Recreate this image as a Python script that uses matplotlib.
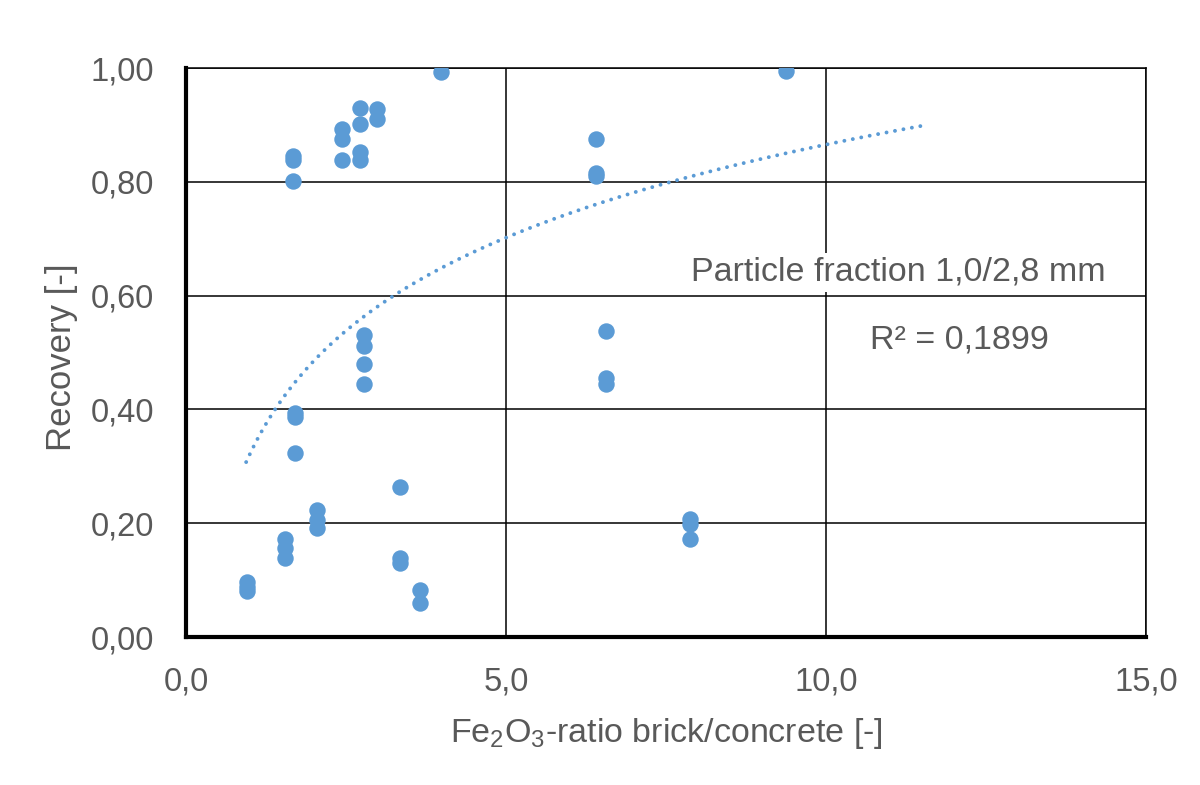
import numpy as np
import matplotlib
matplotlib.use("Agg")
import matplotlib.pyplot as plt

plt.rcParams['font.family'] = ['Liberation Sans', 'DejaVu Sans']
plt.rcParams['mathtext.default'] = 'regular'
plt.rcParams['mathtext.fontset'] = 'custom'
plt.rcParams['mathtext.rm'] = 'Liberation Sans'
plt.rcParams['mathtext.it'] = 'Liberation Sans:italic'
plt.rcParams['mathtext.bf'] = 'Liberation Sans:bold'

# Data
ratio = [0.95, 0.95, 0.95,
         1.55, 1.55, 1.55,
         1.67, 1.67, 1.67,
         1.70, 1.70, 1.70,
         2.04, 2.04, 2.04,
         2.44, 2.44, 2.44,
         2.72, 2.72, 2.72, 2.72,
         2.78, 2.78, 2.78, 2.78,
         2.99, 2.99,
         3.34, 3.34, 3.34,
         3.65, 3.65,
         3.98,
         6.41, 6.41, 6.41,
         6.56, 6.56, 6.56,
         7.87, 7.87, 7.87,
         9.38]
recovery = [0.097, 0.088, 0.080,
            0.172, 0.156, 0.139,
            0.845, 0.838, 0.802,
            0.393, 0.387, 0.324,
            0.223, 0.205, 0.192,
            0.892, 0.875, 0.839,
            0.930, 0.902, 0.853, 0.838,
            0.530, 0.512, 0.480, 0.445,
            0.928, 0.911,
            0.264, 0.138, 0.130,
            0.083, 0.060,
            0.993,
            0.875, 0.816, 0.811,
            0.537, 0.455, 0.444,
            0.208, 0.199, 0.172,
            0.994]

# Logarithmic trendline (y = a*ln(x) + b)
trend_a = 0.236
trend_b = 0.322
trend_range = [0.94, 11.5]

x_ticks = [0, 5, 10, 15]
x_ticklabels = ['0,0', '5,0', '10,0', '15,0']
y_ticks = [0.0, 0.2, 0.4, 0.6, 0.8, 1.0]
y_ticklabels = ['0,00', '0,20', '0,40', '0,60', '0,80', '1,00']

annotation_text = 'Particle fraction 1,0/2,8 mm'
r2_text = 'R² = 0,1899'

blue = '#5B9BD5'
gray = '#595959'

fig = plt.figure(figsize=(12, 7.85), dpi=100)
ax = fig.add_axes([186/1200, 1-637/785, (1146-186)/1200, (637-68)/785])

ax.set_xlim(0, 15)
ax.set_ylim(0, 1.0)

ax.set_xticks(x_ticks)
ax.set_xticklabels(x_ticklabels)
ax.set_yticks(y_ticks)
ax.set_yticklabels(y_ticklabels)

ax.grid(True, color='black', linewidth=1.1)
ax.set_axisbelow(True)
ax.tick_params(axis='both', length=0, labelsize=23.5, labelcolor=gray)
ax.tick_params(axis='x', pad=21)
ax.tick_params(axis='y', pad=23)

for side in ['top', 'right']:
    ax.spines[side].set_linewidth(1.1)
    ax.spines[side].set_color('black')
for side in ['left', 'bottom']:
    ax.spines[side].set_linewidth(3.0)
    ax.spines[side].set_color('black')

ax.scatter(ratio, recovery, s=140, color=blue, zorder=3, linewidths=0)

xt = np.linspace(trend_range[0], trend_range[1], 300)
yt = trend_a * np.log(xt) + trend_b
ax.plot(xt, yt, color=blue, linewidth=2.8, linestyle=(0, (0.01, 2.2)),
        dash_capstyle='round', zorder=2)

ax.text(11.125, 0.6257, annotation_text, fontsize=24.5, color=gray,
        ha='center', va='baseline', zorder=4,
        bbox=dict(facecolor='white', edgecolor='none', pad=3))
ax.text(12.09, 0.507, r2_text, fontsize=24.5, color=gray,
        ha='center', va='baseline', zorder=4)

ax.set_xlabel('Fe$_{2}$O$_{3}$-ratio brick/concrete [-]', fontsize=24.5, color=gray)
ax.xaxis.set_label_coords(0.5, -0.139)
ax.set_ylabel('Recovery [-]', fontsize=25, color=gray)
ax.yaxis.set_label_coords(-0.112, 0.492)

fig.savefig('out.png', dpi=100, facecolor='white')
